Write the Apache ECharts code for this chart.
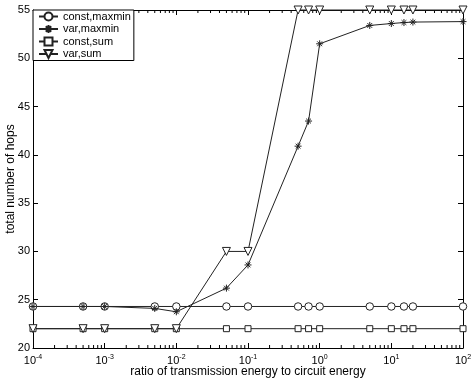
<!DOCTYPE html>
<html>
<head>
<meta charset="utf-8">
<script src="https://cdn.jsdelivr.net/npm/echarts@6/dist/echarts.min.js"></script>
<style>html,body{margin:0;padding:0;background:#fff}#c{width:474px;height:380px}</style>
</head>
<body>
<div id="c"></div>
<script>
// ---- data ----
const xValues = [1e-4, 5e-4, 1e-3, 5e-3, 1e-2, 5e-2, 1e-1, 0.5, 0.7, 1, 5, 10, 15, 20, 100];
const constMaxmin = [24.3, 24.3, 24.3, 24.3, 24.3, 24.3, 24.3, 24.3, 24.3, 24.3, 24.3, 24.3, 24.3, 24.3, 24.3];
const varMaxmin = [24.3, 24.3, 24.3, 24.1, 23.75, 26.2, 28.6, 40.9, 43.5, 51.5, 53.4, 53.6, 53.7, 53.75, 53.8];
const constSum = [22, 22, 22, 22, 22, 22, 22, 22, 22, 22, 22, 22, 22, 22, 22];
const varSum = [22, 22, 22, 22, 22, 30, 30, 55, 55, 55, 55, 55, 55, 55, 55];
const seriesNames = ['const,maxmin', 'var,maxmin', 'const,sum', 'var,sum'];
const yTicks = [20, 25, 30, 35, 40, 45, 50, 55];
const xDecades = [-4, -3, -2, -1, 0, 1, 2];
const xTitle = 'ratio of transmission energy to circuit energy';
const yTitle = 'total number of hops';

// minor tick positions of the log axis (2..9 x 10^k)
const minorTicks = [];
for (let i = 0; i < xDecades.length - 1; i++) {
  for (let m = 2; m <= 9; m++) minorTicks.push([m * Math.pow(10, xDecades[i]), 20]);
}

const pair = arr => xValues.map((x, i) => [x, arr[i]]);
const FONT = '"Liberation Sans", Arial, sans-serif';
const LC = '#222';

const starPath = 'path://M5,0L5,10M0,5L10,5M1.6,1.6L8.4,8.4M1.6,8.4L8.4,1.6';
const triDown = 'path://M0,0L10,0L5,8.66Z';
const symbols = [['circle', 7.5, '#fff'], [starPath, 7, '#222'], ['rect', 6, '#fff'], [triDown, 8, '#fff']];
const allData = [constMaxmin, varMaxmin, constSum, varSum];

function mkSeries(i, data) {
  return {
    name: seriesNames[i], type: 'line', data: data,
    symbol: symbols[i][0], symbolSize: symbols[i][1],
    showAllSymbol: true, clip: false,
    lineStyle: { color: LC, width: 1 },
    itemStyle: { color: symbols[i][2], borderColor: LC, borderWidth: 1 },
    emphasis: { disabled: true }, z: 3
  };
}

const chart = echarts.init(document.getElementById('c'));
chart.setOption({
  animation: false,
  backgroundColor: '#fff',
  textStyle: { fontFamily: FONT },
  grid: { left: 33, right: 11, top: 10, bottom: 32, containLabel: false, outerBoundsMode: 'none' },
  legend: {
    orient: 'vertical', left: 33, top: 10,
    data: seriesNames,
    itemWidth: 19, itemHeight: 10, itemGap: 1.5,
    padding: [1, 3, 1, 5],
    borderColor: '#000', borderWidth: 1, backgroundColor: '#fff',
    selectedMode: false,
    textStyle: { fontFamily: FONT, fontSize: 11, lineHeight: 11, color: '#000' },
    z: 10
  },
  xAxis: [{
    type: 'log', logBase: 10, min: 1e-4, max: 100,
    position: 'bottom',
    name: xTitle, nameLocation: 'middle', nameGap: 18, nameMoveOverlap: false,
    nameTextStyle: { fontFamily: FONT, fontSize: 12, color: '#000' },
    axisLine: { lineStyle: { color: '#000', width: 1 } },
    axisTick: { inside: true, length: 5, lineStyle: { color: '#000' } },
    splitLine: { show: false },
    axisLabel: {
      margin: 6, color: '#000',
      formatter: v => '{b|10}{e|' + Math.round(Math.log10(v)) + '}',
      rich: {
        b: { fontFamily: FONT, fontSize: 11, color: '#000' },
        e: { fontFamily: FONT, fontSize: 7, color: '#000', verticalAlign: 'bottom', padding: [0, 0, 7, 0] }
      }
    }
  }, {
    type: 'log', logBase: 10, min: 1e-4, max: 100, position: 'top',
    axisLine: { lineStyle: { color: '#000', width: 1 } },
    axisTick: { inside: true, length: 5, lineStyle: { color: '#000' } },
    axisLabel: { show: false }, splitLine: { show: false }
  }],
  yAxis: [{
    type: 'value', min: 20, max: 55, interval: 5,
    name: yTitle, nameLocation: 'middle', nameGap: 16, nameMoveOverlap: false,
    nameTextStyle: { fontFamily: FONT, fontSize: 12, color: '#000' },
    axisLine: { show: true, lineStyle: { color: '#000', width: 1 } },
    axisTick: { show: true, inside: true, length: 5, lineStyle: { color: '#000' } },
    splitLine: { show: false },
    axisLabel: { margin: 3, color: '#000', fontFamily: FONT, fontSize: 11,
      showMinLabel: true, showMaxLabel: true, hideOverlap: false,
      formatter: v => yTicks.includes(v) ? String(v) : '' }
  }, {
    type: 'value', min: 20, max: 55, interval: 5, position: 'right',
    axisLine: { show: true, lineStyle: { color: '#000', width: 1 } },
    axisTick: { show: true, inside: true, length: 5, lineStyle: { color: '#000' } },
    axisLabel: { show: false }, splitLine: { show: false }
  }],
  series: allData.map((arr, i) => mkSeries(i, pair(arr))).concat([{
    type: 'custom', silent: true, data: minorTicks, z: 1,
    renderItem: function (params, api) {
      const x = api.value(0);
      const pb = api.coord([x, 20]);
      const pt = api.coord([x, 55]);
      return { type: 'group', children: [
        { type: 'line', shape: { x1: pb[0], y1: pb[1], x2: pb[0], y2: pb[1] - 3 }, style: { stroke: '#000', lineWidth: 1 } },
        { type: 'line', shape: { x1: pt[0], y1: pt[1], x2: pt[0], y2: pt[1] + 3 }, style: { stroke: '#000', lineWidth: 1 } }
      ]};
    }
  }])
});
</script>
</body>
</html>
